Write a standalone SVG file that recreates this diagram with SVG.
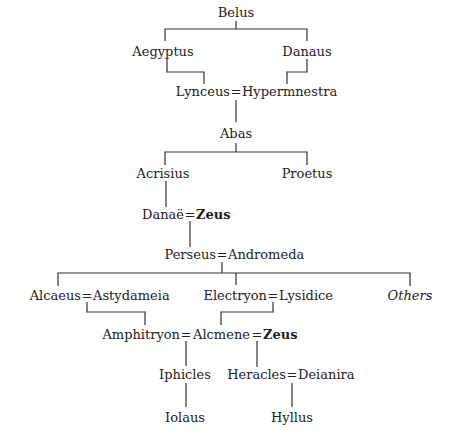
<svg xmlns="http://www.w3.org/2000/svg" width="471" height="438" viewBox="0 0 471 438">
<style>
text{font-family:"DejaVu Serif","Liberation Serif",serif;font-size:13px;fill:#222}
.m{text-anchor:middle}.e{text-anchor:end}.s{text-anchor:start}
.b{font-weight:bold}.i{font-style:italic}
#connectors path{fill:none;stroke:#333;stroke-width:1.2}
</style>
<rect width="471" height="438" fill="#fff"/>
<g id="connectors">
<path d="M236 21V29M165 41V29H307V41"/>
<path d="M167 59V72H204V84M307 59V72H287V84"/>
<path d="M236 100V122"/>
<path d="M236 143V152M165 165V152H307V165"/>
<path d="M166 181V207"/>
<path d="M190 221V247"/>
<path d="M222 262V273M58 286V273H410V286M236 273V285"/>
<path d="M87 302V312H145V325M273 302V312H221V325"/>
<path d="M186 341V366M257 341V367"/>
<path d="M186 383V407M292 383V407"/>
</g>
<g id="belus"><text class="m" x="236" y="17">Belus</text></g>
<g id="aegyptus"><text class="m" x="163" y="56">Aegyptus</text></g>
<g id="danaus"><text class="m" x="307" y="56">Danaus</text></g>
<g id="lynceus-hypermnestra"><text y="96"><tspan class="e" x="230">Lynceus</tspan><tspan class="m" x="236">=</tspan><tspan class="s" x="242">Hypermnestra</tspan></text></g>
<g id="abas"><text class="m" x="236" y="138">Abas</text></g>
<g id="acrisius"><text class="m" x="163" y="178">Acrisius</text></g>
<g id="proetus"><text class="m" x="307" y="178">Proetus</text></g>
<g id="danae-zeus"><text y="219"><tspan class="e" x="184">Danaë</tspan><tspan class="m" x="190">=</tspan><tspan class="s b" x="196">Zeus</tspan></text></g>
<g id="perseus-andromeda"><text y="259"><tspan class="e" x="216">Perseus</tspan><tspan class="m" x="222">=</tspan><tspan class="s" x="228">Andromeda</tspan></text></g>
<g id="alcaeus-astydameia"><text y="300"><tspan class="e" x="81">Alcaeus</tspan><tspan class="m" x="87">=</tspan><tspan class="s" x="93">Astydameia</tspan></text></g>
<g id="electryon-lysidice"><text y="300"><tspan class="e" x="267">Electryon</tspan><tspan class="m" x="273">=</tspan><tspan class="s" x="279">Lysidice</tspan></text></g>
<g id="others"><text class="m i" x="410" y="300">Others</text></g>
<g id="amphitryon-alcmene-zeus"><text y="339"><tspan class="e" x="180">Amphitryon</tspan><tspan class="m" x="186">=</tspan><tspan class="m" x="221.5">Alcmene</tspan><tspan class="m" x="257">=</tspan><tspan class="s b" x="263">Zeus</tspan></text></g>
<g id="iphicles"><text class="m" x="185" y="379">Iphicles</text></g>
<g id="heracles-deianira"><text y="379"><tspan class="e" x="286">Heracles</tspan><tspan class="m" x="292">=</tspan><tspan class="s" x="298">Deianira</tspan></text></g>
<g id="iolaus"><text class="m" x="185" y="422">Iolaus</text></g>
<g id="hyllus"><text class="m" x="292" y="422">Hyllus</text></g>
</svg>
